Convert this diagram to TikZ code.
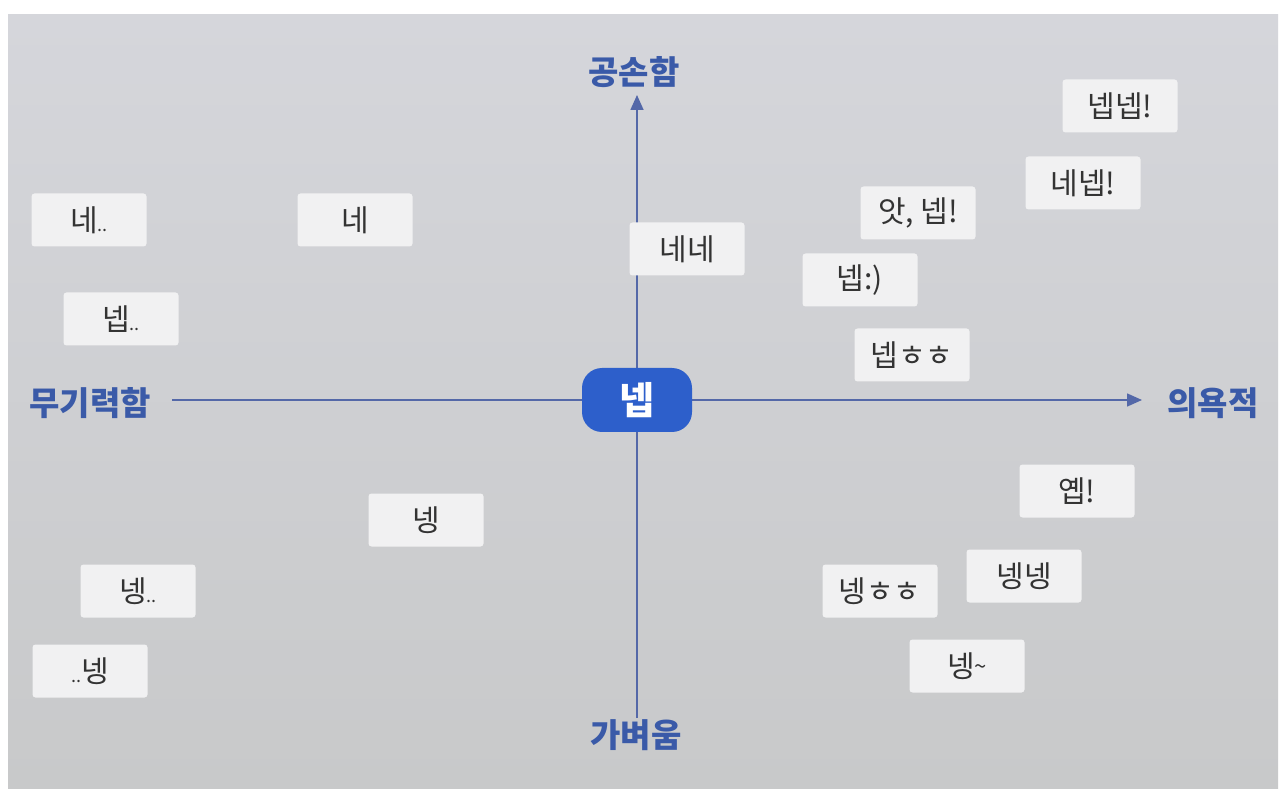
\documentclass[tikz,border=0pt]{standalone}
\usepackage{fontspec}
\setmainfont{Noto Sans CJK KR}
\usetikzlibrary{arrows.meta}
\definecolor{bgfill}{HTML}{D5D6DB}
\definecolor{bgbottom}{HTML}{C8C9CA}
\definecolor{boxfill}{HTML}{F1F1F2}
\definecolor{txt}{HTML}{333333}
\definecolor{axislbl}{HTML}{3A5AA8}
\definecolor{axisline}{HTML}{5468A8}
\definecolor{centerfill}{HTML}{2D5FCB}
\tikzset{
  chip/.style={rectangle, rounded corners=3pt, fill=boxfill, text=txt,
    minimum width=115pt, minimum height=53pt, inner sep=0pt,
    font=\fontsize{30}{34}\selectfont},
  axislabel/.style={text=axislbl, font=\fontsize{33}{36}\selectfont\bfseries, inner sep=0pt},
  axis/.style={draw=axisline, line width=1.6pt},
  centerbox/.style={rectangle, rounded corners=20pt, fill=centerfill, text=white,
    minimum width=110pt, minimum height=64pt, inner sep=0pt,
    font=\fontsize{38}{40}\selectfont\bfseries},
}
\newcommand{\twodots}{{\fontsize{18}{20}\selectfont ..}}
\newcommand{\smtilde}{\raisebox{3pt}{\fontsize{22}{24}\selectfont\textasciitilde}}
\begin{document}
\begin{tikzpicture}[x=1pt,y=-1pt]
\useasboundingbox (0,0) rectangle (1280,799);
\fill[white] (0,0) rectangle (1280,799);
\shade[top color=bgfill, bottom color=bgbottom] (8,15) rectangle (1278,788);

% axes
\coordinate (vtop) at (637,95);
\coordinate (vbot) at (637,718);
\coordinate (hleft) at (172,400);
\coordinate (hright) at (1142,400);
\draw[axis, -{Triangle[width=13pt,length=15pt]}] (hleft) -- (hright);
\draw[axis, -{Triangle[width=13pt,length=15pt]}] (vbot) -- (vtop);

% axis labels
\node[axislabel] (top) at (634,72) {공손함};
\node[axislabel] (bottom) at (636,735) {가벼움};
\node[axislabel] (left) at (90,403) {무기력함};
\node[axislabel] (right) at (1213,403) {의욕적};

% center
\node[centerbox] (center) at (637,400) {넵};

% chips
\node[chip] (n1) at (89,220) {네\twodots};
\node[chip] (n2) at (355,220) {네};
\node[chip] (n3) at (121,319) {넵\twodots};
\node[chip] (n4) at (687,249) {네네};
\node[chip] (n5) at (918,213) {앗, 넵!};
\node[chip] (n6) at (860,280) {넵:)};
\node[chip] (n7) at (912,355) {넵ㅎㅎ};
\node[chip] (n8) at (1120,106) {넵넵!};
\node[chip] (n9) at (1083,183) {네넵!};
\node[chip] (n10) at (426,520) {넹};
\node[chip] (n11) at (138,591) {넹\twodots};
\node[chip] (n12) at (90,671) {\twodots 넹};
\node[chip] (n13) at (1077,491) {옙!};
\node[chip] (n14) at (880,591) {넹ㅎㅎ};
\node[chip] (n15) at (1024,576) {넹넹};
\node[chip] (n16) at (967,666) {넹\smtilde};
\end{tikzpicture}
\end{document}
